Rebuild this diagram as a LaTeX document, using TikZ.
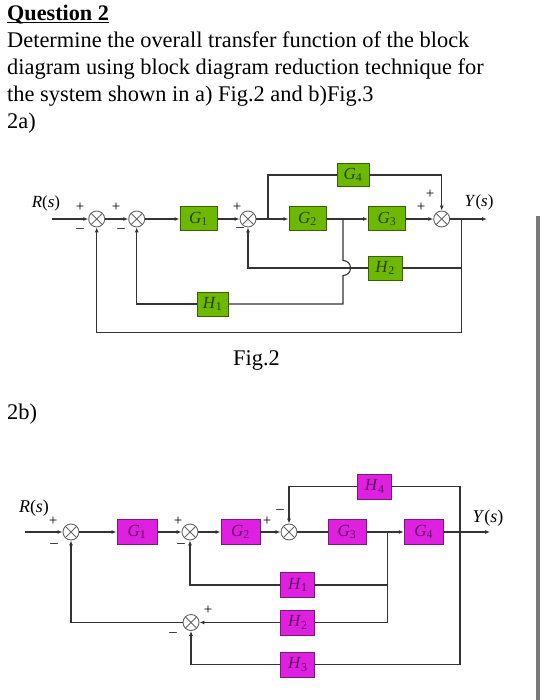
\documentclass[tikz,border=0pt]{standalone}
\usepackage{fontspec}
\setmainfont{Liberation Serif}
\usetikzlibrary{arrows.meta}
\definecolor{linec}{HTML}{333333}
\definecolor{sumc}{HTML}{666666}
\definecolor{gfill}{HTML}{6DB800}
\definecolor{gdraw}{HTML}{3B5E00}
\definecolor{gtext}{HTML}{2A3F00}
\definecolor{mfill}{HTML}{E020E0}
\definecolor{mdraw}{HTML}{7A1A7A}
\definecolor{mtext}{HTML}{5E1060}
\definecolor{barc}{HTML}{7A7A7A}
\tikzset{
  sumj/.style={circle,draw=sumc,fill=white,minimum size=16pt,inner sep=0pt,line width=0.9pt,
    path picture={\draw[sumc,line width=0.9pt] (path picture bounding box.south west) -- (path picture bounding box.north east)
      (path picture bounding box.north west) -- (path picture bounding box.south east);}},
  gblk/.style={draw=gdraw,fill=gfill,line width=1pt,minimum width=37pt,minimum height=24pt,inner sep=0pt,
    text=gtext,font=\fontsize{17}{17}\selectfont},
  mblk/.style={draw=mdraw,fill=mfill,line width=1pt,minimum width=39pt,minimum height=25pt,inner sep=0pt,
    text=mtext,font=\fontsize{17}{17}\selectfont},
  sig/.style={inner sep=0pt,font=\fontsize{15}{15}\selectfont},
  lbl/.style={inner sep=0pt,font=\fontsize{17}{17}\selectfont},
  txt/.style={inner sep=0pt,anchor=base west,font=\fontsize{22.4}{22.4}\selectfont},
  wire/.style={draw=linec,line width=1.1pt},
  arr/.style={wire,-{Latex[length=5pt,width=4pt]}}
}
\begin{document}
\begin{tikzpicture}[x=1pt,y=-1pt]
\useasboundingbox (0,0) rectangle (543,700);
\fill[white] (0,0) rectangle (543,700);
% ---- text ----
\node[txt,font=\fontsize{22.2}{22.2}\selectfont\bfseries] (q) at (7,20.7) {Question 2};
\draw[line width=1.1pt] ([yshift=-2.2pt]q.base west) -- ([yshift=-2.2pt]q.base east);
\node[txt] (l1) at (7,48) {Determine the overall transfer function of the block};
\node[txt] (l2) at (7,75) {diagram using block diagram reduction technique for};
\node[txt] (l3) at (7,102) {the system shown in a) Fig.2 and b)Fig.3};
\node[txt] (l4) at (7,129) {2a)};
\node[txt] (f2) at (233,365) {Fig.2};
\node[txt] (l5) at (7,419) {2b)};
% ---- gray bar ----
\fill[barc] (536,216) rectangle (540,700);
% ================= Fig 2a =================
\coordinate (in) at (52,219);
\coordinate (out) at (487,219);
\node[sumj] (s1) at (96.7,219) {};
\node[sumj] (s2) at (136.7,219) {};
\node[gblk] (g1) at (198.5,219) {\textit{G}\textsubscript{1}};
\node[sumj] (s3) at (248,219) {};
\node[gblk] (g2) at (307.5,219) {\textit{G}\textsubscript{2}};
\node[gblk] (g3) at (387,219) {\textit{G}\textsubscript{3}};
\node[sumj] (s4) at (441.7,219) {};
\node[gblk,minimum width=32pt,minimum height=23pt] (g4) at (353,175) {\textit{G}\textsubscript{4}};
\node[gblk,minimum width=34pt] (h2) at (385,268) {\textit{H}\textsubscript{2}};
\node[gblk,minimum width=31pt] (h1) at (212.5,304) {\textit{H}\textsubscript{1}};
\coordinate (b1) at (268,219);
\coordinate (b2) at (343,219);
\coordinate (b3) at (461.7,219);
\coordinate (hopA) at (343,260.5);
\coordinate (hopB) at (343,275.5);
\coordinate (b2d) at (343,304);
\coordinate (b3d) at (461.7,332.7);
\draw[arr] (in) -- (s1);
\draw[arr] (s1) -- (s2);
\draw[arr] (s2) -- (g1);
\draw[arr] (g1) -- (s3);
\draw[arr] (s3) -- (g2);
\draw[arr] (g2) -- (g3);
\draw[arr] (g3) -- (s4);
\draw[arr] (s4) -- (out);
\draw[wire] (b1) |- (g4.west);
\draw[arr] (g4.east) -| (s4.north);
\draw[wire] (b3) |- (h2.east);
\draw[arr] (h2.west) -| (s3.south);
\draw[wire] (b2) -- (hopA) .. controls (353,260.5) and (353,275.5) .. (hopB) -- (b2d) -- (h1.east);
\draw[arr] (h1.west) -| (s2.south);
\draw[arr] (b3) -- (b3d) -| (s1.south);
\node[lbl] (rs) at (46,203) {\textit{R}(\textit{s})};
\node[lbl] (ys) at (479,202) {\textit{Y}(\textit{s})};
\node[sig] at (80,207) {+};
\node[sig] at (80,231) {–};
\node[sig] at (116,207) {+};
\node[sig] at (121,231) {–};
\node[sig] at (237,207) {+};
\node[sig] at (240,230) {–};
\node[sig] at (421,207) {+};
\node[sig] at (430,194) {+};
% ================= Fig 2b =================
\coordinate (in2) at (25,532);
\coordinate (out2) at (490,532);
\node[sumj] (t1) at (71,532) {};
\node[mblk,minimum width=40pt] (m1) at (137,532) {\textit{G}\textsubscript{1}};
\node[sumj] (t2) at (190,532) {};
\node[mblk] (m2) at (240.5,532) {\textit{G}\textsubscript{2}};
\node[sumj] (t3) at (289,532) {};
\node[mblk,minimum width=38pt] (m3) at (347,532) {\textit{G}\textsubscript{3}};
\node[mblk] (m4) at (423.8,532) {\textit{G}\textsubscript{4}};
\node[mblk,minimum width=34pt] (mh4) at (374.7,486.5) {\textit{H}\textsubscript{4}};
\node[mblk,minimum width=34pt] (mh1) at (297.8,585) {\textit{H}\textsubscript{1}};
\node[mblk,minimum width=34pt] (mh2) at (297.8,622.5) {\textit{H}\textsubscript{2}};
\node[mblk,minimum width=34pt] (mh3) at (297.8,664.5) {\textit{H}\textsubscript{3}};
\node[sumj] (t4) at (191,622.5) {};
\coordinate (c1) at (387.7,532);
\coordinate (c2) at (460,532);
\draw[arr] (in2) -- (t1);
\draw[arr] (t1) -- (m1);
\draw[arr] (m1) -- (t2);
\draw[arr] (t2) -- (m2);
\draw[arr] (m2) -- (t3);
\draw[wire] (t3) -- (m3);
\draw[arr] (m3) -- (m4);
\draw[arr] (m4) -- (out2);
\draw[wire] (c2) |- (mh4.east);
\draw[arr] (mh4.west) -| (t3.north);
\draw[wire] (c1) |- (mh1.east);
\draw[arr] (mh1.west) -| (t2.south);
\draw[wire] (c1) |- (mh2.east);
\draw[arr] (mh2.west) -- (t4.east);
\draw[wire] (c2) |- (mh3.east);
\draw[arr] (mh3.west) -| (t4.south);
\draw[arr] (t4.west) -| (t1.south);
\node[lbl,font=\fontsize{18}{18}\selectfont] (rs2) at (34,508) {\textit{R}(\textit{s})};
\node[lbl,font=\fontsize{18}{18}\selectfont] (ys2) at (488,518) {\textit{Y}(\textit{s})};
\node[sig] at (53,521) {+};
\node[sig] at (54,546) {–};
\node[sig] at (178,521) {+};
\node[sig] at (181,546) {–};
\node[sig] at (267,521) {+};
\node[sig] at (280,512) {–};
\node[sig] at (208,610) {+};
\node[sig] at (173,635) {–};
\end{tikzpicture}
\end{document}
